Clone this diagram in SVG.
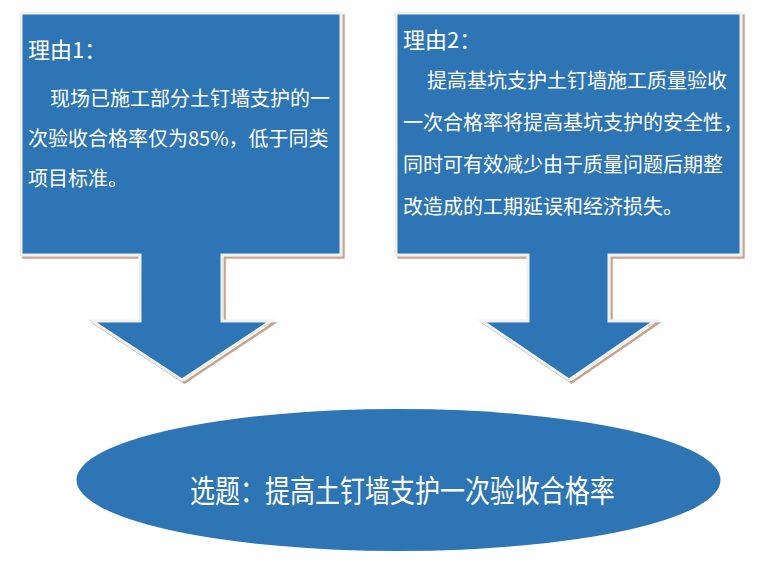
<svg xmlns="http://www.w3.org/2000/svg" width="760" height="570" viewBox="0 0 760 570">
<style>
.shadow{fill:none;stroke:#C9A48A;stroke-width:2.5;stroke-linejoin:miter}
.shape{fill:#2E75B6;stroke:#EEF0F3;stroke-width:3;stroke-linejoin:miter}
.t{font-family:"Noto Sans CJK SC","Microsoft YaHei",sans-serif;fill:#FFFFFF}
.title{font-size:22px}
.body{font-size:20px}
.main{font-size:25px}
</style>
<rect width="760" height="570" fill="#FFFFFF"/>
<g id="reason1">
<path class="shadow" transform="translate(2.5,2.5)" d="M21,13 H341 V255 H222 V321 H271 L182,380 L92,321 H140 V255 H21 Z"/>
<path class="shape" d="M21,13 H341 V255 H222 V321 H271 L182,380 L92,321 H140 V255 H21 Z"/>
<text class="t title" x="28" y="58">理由1：</text>
<text class="t body" x="50" y="106">现场已施工部分土钉墙支护的一</text>
<text class="t body" x="28" y="146">次验收合格率仅为85%，低于同类</text>
<text class="t body" x="28" y="186">项目标准。</text>
</g>
<g id="reason2">
<path class="shadow" transform="translate(2.5,2.5)" d="M396,13 H741 V255 H609 V321 H655 L569,380 L482,321 H528 V255 H396 Z"/>
<path class="shape" d="M396,13 H741 V255 H609 V321 H655 L569,380 L482,321 H528 V255 H396 Z"/>
<text class="t title" x="403" y="48">理由2：</text>
<text class="t body" x="427" y="88">提高基坑支护土钉墙施工质量验收</text>
<text class="t body" x="403" y="130">一次合格率将提高基坑支护的安全性，</text>
<text class="t body" x="403" y="172">同时可有效减少由于质量问题后期整</text>
<text class="t body" x="403" y="214">改造成的工期延误和经济损失。</text>
</g>
<g id="topic">
<ellipse cx="398.5" cy="480" rx="322" ry="71" fill="#2E75B6"/>
<text class="t main" x="190" y="0" transform="translate(0,502) scale(1,1.22)">选题：提高土钉墙支护一次验收合格率</text>
</g>
<g id="connectors"></g>
</svg>
